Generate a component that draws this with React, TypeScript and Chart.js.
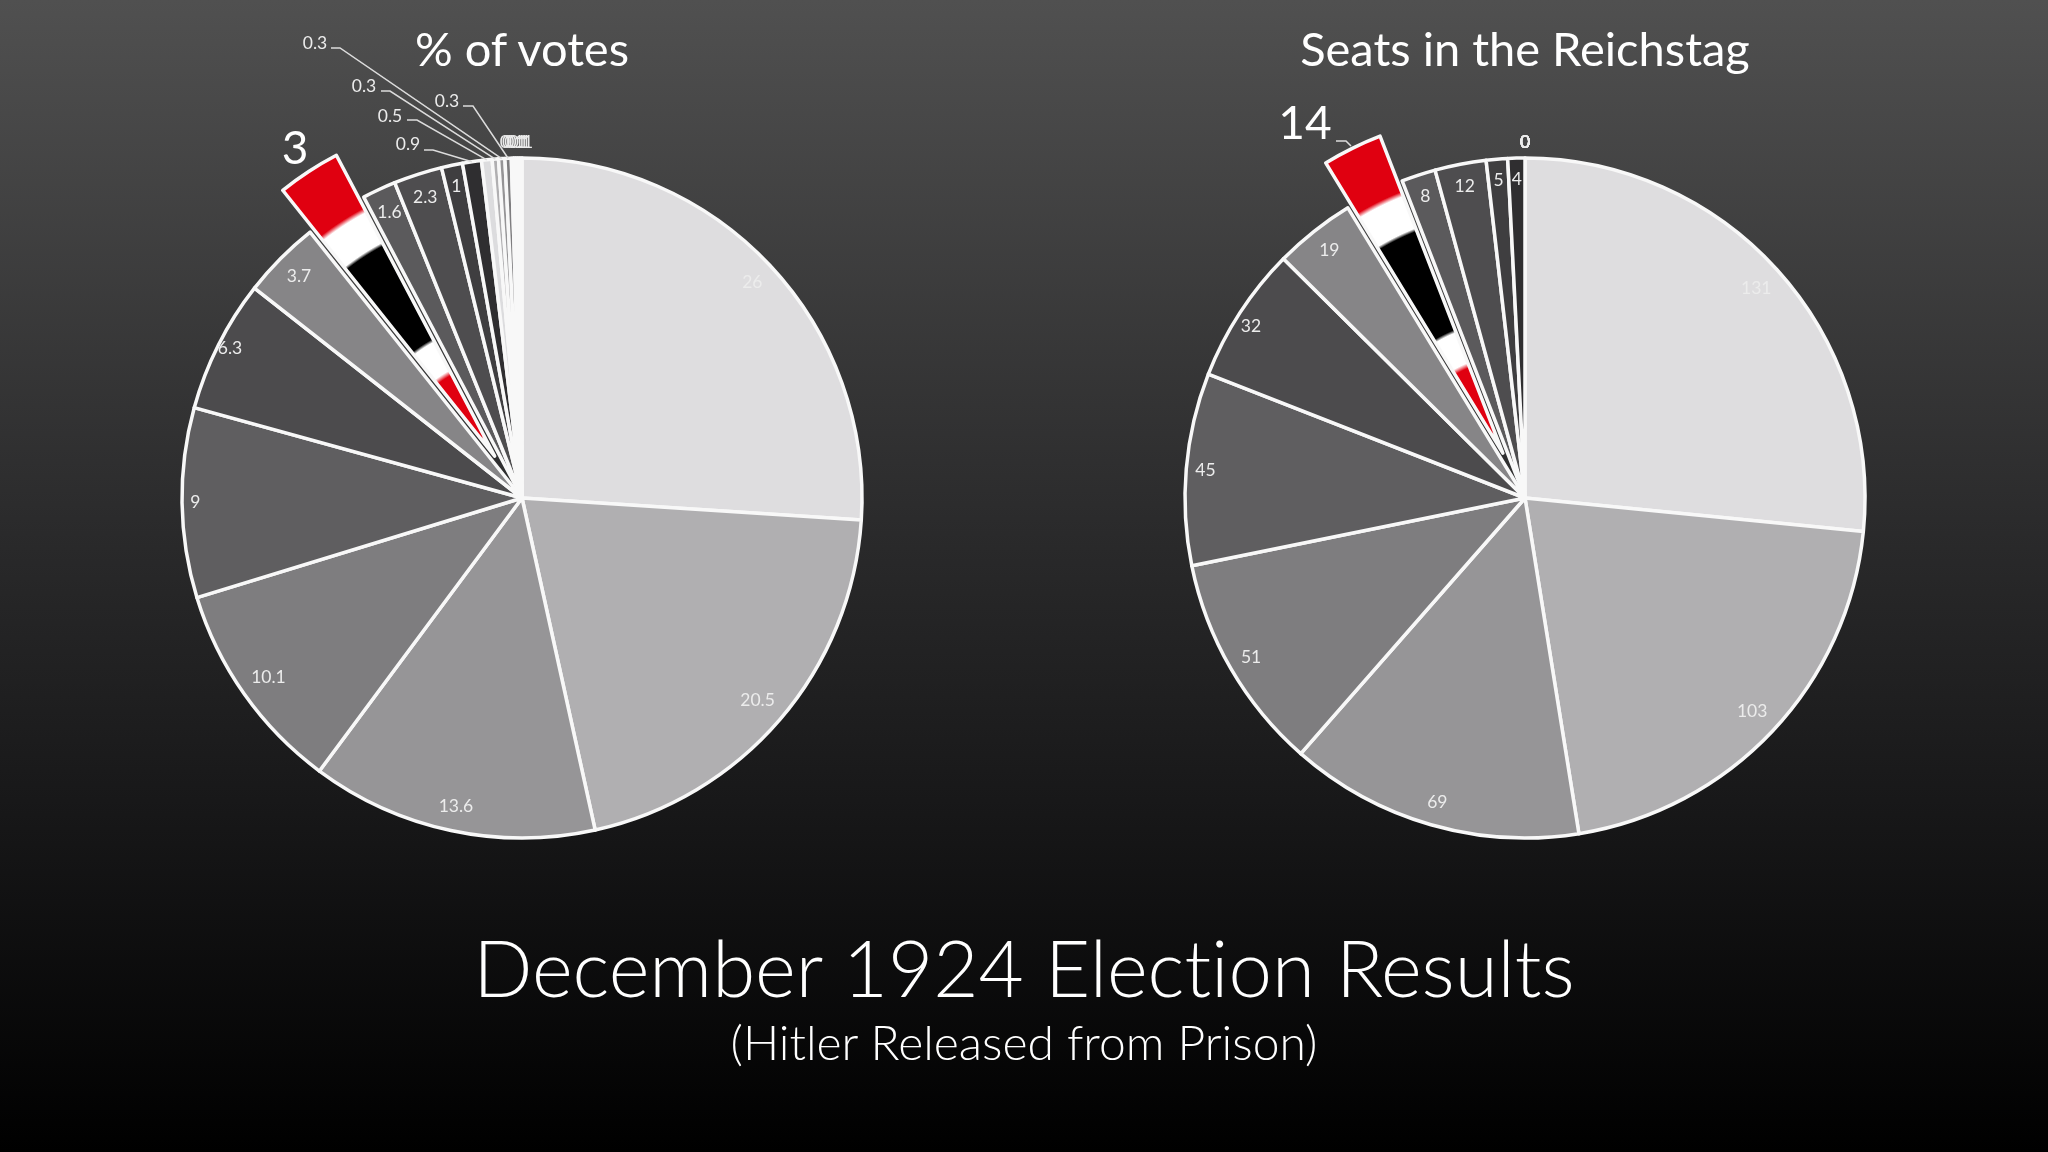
import React, { useEffect, useRef } from 'react';
import Chart from 'chart.js/auto';

const voteValues = [26, 20.5, 13.6, 10.1, 9, 6.3, 3.7, 3, 1.6, 2.3, 1, 0.9, 0.5, 0.3, 0.3, 0.3, 0.1, 0.1, 0.1, 0.1, 0.1];
const seatValues = [131, 103, 69, 51, 45, 32, 19, 14, 8, 12, 5, 4, 0, 0, 0, 0, 0, 0, 0, 0, 0];
const sliceColors = [
  '#dedddf', '#b0afb1', '#969597', '#7e7d7f', '#5f5e60', '#4c4b4d', '#868587', '#e00010',
  '#5b5a5c', '#4e4d4f', '#3f3e40', '#2f2e30', '#dcdcde', '#b0afb1', '#959496', '#7e7d7f',
  '#ffffff', '#ffffff', '#ffffff', '#ffffff', '#ffffff',
];
const FLAG_INDEX = 7;
const OUTSIDE_FROM = 12;

const RADIUS = 340;
const EXPLODE = 50;
const LABEL_COLOR = '#ececec';
const FONT = 'Lato, "Open Sans", sans-serif';

// dx/dy from the pie centre; line is the elbow of the leader, if any
type Callout = { dx: number; dy: number; size?: number; line?: number[][] };

const voteCallouts: Record<number, Callout> = {
  5: { dx: -292, dy: -150 },
  7: { dx: -227, dy: -349, size: 46 },
  11: { dx: -114, dy: -354, line: [[-98, -348], [-89, -348]] },
  12: { dx: -132, dy: -382, line: [[-115, -378], [-105, -378]] },
  13: { dx: -158, dy: -412, line: [[-141, -407], [-132, -407]] },
  14: { dx: -207, dy: -455, line: [[-191, -450], [-182, -450]] },
  15: { dx: -75, dy: -397, line: [[-59, -392], [-49, -392]] },
};
const seatCallouts: Record<number, Callout> = {
  5: { dx: -274, dy: -172 },
  7: { dx: -220, dy: -374, size: 46, line: [[-189, -357], [-179, -357], [-174, -352]] },
};

const flagFill = (chart: Chart) => {
  const x = chart.width / 2;
  const y = chart.height / 2;
  const g = chart.ctx.createRadialGradient(x, y, 0, x, y, RADIUS);
  const bands: [number, string][] = [
    [0, '#ffffff'], [0.06, '#ffffff'], [0.07, '#e00010'], [0.27, '#e00010'], [0.285, '#ffffff'],
    [0.38, '#ffffff'], [0.39, '#000000'], [0.7, '#000000'], [0.71, '#ffffff'], [0.81, '#ffffff'],
    [0.825, '#e00010'], [1, '#e00010'],
  ];
  bands.forEach(([stop, color]) => g.addColorStop(stop, color));
  return g;
};

const ElectionPie: React.FC<{ values: number[]; callouts: Record<number, Callout>; left: number }> = ({ values, callouts, left }) => {
  const canvasRef = useRef<HTMLCanvasElement>(null);

  useEffect(() => {
    if (!canvasRef.current) return;

    const chart = new Chart(canvasRef.current, {
      type: 'pie',
      data: {
        labels: values.map((_, i) => String(i)),
        datasets: [{
          data: values,
          backgroundColor: (c: any) => (c.dataIndex === FLAG_INDEX ? flagFill(c.chart) : sliceColors[c.dataIndex]),
          borderColor: '#f8f8f8',
          borderWidth: 3.5,
          borderJoinStyle: 'round',
          // Chart.js moves an arc by a quarter of its offset
          offset: (c: any) => (c.dataIndex === FLAG_INDEX ? EXPLODE * 4 : 0),
        }],
      },
      options: {
        responsive: false,
        animation: false,
        radius: RADIUS,
        plugins: { legend: { display: false }, tooltip: { enabled: false } },
      },
      plugins: [{
        id: 'pieExtras',
        beforeDatasetsDraw(c: Chart) {
          // offset also grows the arc and narrows its angle, take both back for the exploded slice
          const arc: any = c.getDatasetMeta(0).data[FLAG_INDEX];
          const grown = EXPLODE * (1 - Math.sin(Math.min(Math.PI, arc.circumference)));
          const narrowed = grown / (Math.PI * RADIUS);
          arc.outerRadius = RADIUS - grown;
          arc.startAngle -= narrowed / 2;
          arc.endAngle += narrowed / 2;
        },
        afterDatasetsDraw(c: Chart) {
          const ctx = c.ctx;
          const cx = c.width / 2;
          const cy = c.height / 2;
          ctx.save();
          ctx.textAlign = 'center';
          ctx.textBaseline = 'middle';
          c.getDatasetMeta(0).data.forEach((el: any, i: number) => {
            const text = String(values[i]);
            const mid = (el.startAngle + el.endAngle) / 2;
            const co = callouts[i];
            ctx.font = `${co?.size ?? 17.5}px ${FONT}`;
            ctx.fillStyle = co?.size ? '#ffffff' : LABEL_COLOR;
            let x: number;
            let y: number;
            if (co) {
              x = cx + co.dx;
              y = cy + co.dy;
              if (co.line) {
                ctx.strokeStyle = '#dcdcdc';
                ctx.lineWidth = 1.5;
                ctx.beginPath();
                co.line.forEach(([px, py], k) => (k ? ctx.lineTo(cx + px, cy + py) : ctx.moveTo(cx + px, cy + py)));
                if (!co.size) ctx.lineTo(cx + Math.cos(mid) * RADIUS, cy + Math.sin(mid) * RADIUS);
                ctx.stroke();
              }
            } else if (i >= OUTSIDE_FROM) {
              x = cx + Math.cos(mid) * (RADIUS + 16);
              y = cy + Math.sin(mid) * (RADIUS + 16);
            } else {
              // inside end: keep the text box just within the rim
              const hw = ctx.measureText(text).width / 2;
              const r = RADIUS - 8 - hw * Math.abs(Math.cos(mid)) - 13 * Math.abs(Math.sin(mid));
              x = cx + Math.cos(mid) * r;
              y = cy + Math.sin(mid) * r;
            }
            ctx.fillText(text, x, y);
          });
          ctx.restore();
        },
      }],
    } as any);

    return () => chart.destroy();
  }, [values, callouts]);

  return (
    <canvas
      ref={canvasRef}
      width={1000}
      height={960}
      style={{ position: 'absolute', left, top: 17.6, width: 1000, height: 960 }}
    />
  );
};

const textStyle = (center: number, top: number, size: number, weight: number): React.CSSProperties => ({
  position: 'absolute',
  left: center - 800,
  width: 1600,
  top,
  textAlign: 'center',
  fontFamily: FONT,
  fontSize: size,
  fontWeight: weight,
  fontVariantLigatures: 'none',
  lineHeight: 1,
  color: '#ffffff',
  whiteSpace: 'nowrap',
});

export default function App() {
  return (
    <div
      style={{
        position: 'fixed',
        left: 0,
        top: 0,
        width: 2048,
        height: 1152,
        overflow: 'hidden',
        background: 'linear-gradient(#505050 0%, #2b2b2c 45%, #161617 72%, #000000 100%)',
      }}
    >
      <ElectionPie values={voteValues} callouts={voteCallouts} left={22} />
      <ElectionPie values={seatValues} callouts={seatCallouts} left={1025} />
      <div style={textStyle(522, 25, 47, 400)}>% of votes</div>
      <div style={textStyle(1525, 25, 47, 400)}>Seats in the Reichstag</div>
      <div style={textStyle(1024, 928, 78, 300)}>December 1924 Election Results</div>
      <div style={textStyle(1024, 1018, 48, 300)}>(Hitler Released from Prison)</div>
    </div>
  );
}
